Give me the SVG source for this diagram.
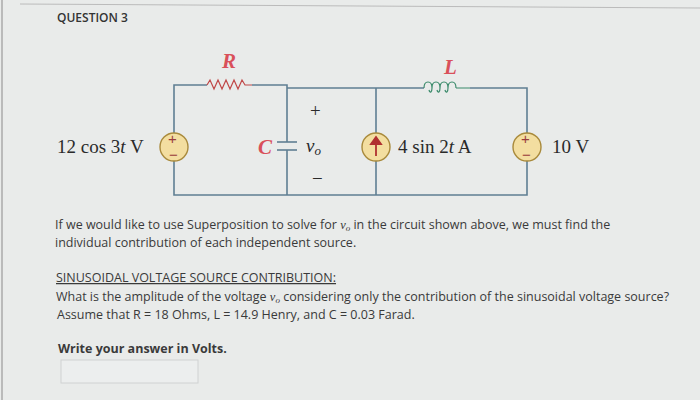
<svg xmlns="http://www.w3.org/2000/svg" width="700" height="400" viewBox="0 0 700 400">
<style>
.w{fill:none;stroke:#5f7f93;stroke-width:1.6}
.src{fill:#f3dea0;stroke:#a98a3c;stroke-width:1.4}
.ct{font-family:"Liberation Serif",serif;font-size:19px;fill:#2a2a2a}
.lb{font-family:"Liberation Serif",serif;font-size:21px;font-style:italic;font-weight:bold;fill:#d9505a}
.t{font-family:"Open Sans","Noto Sans",sans-serif;font-size:12.5px;fill:#3a3a3a}
.sym{font-family:"Liberation Sans",sans-serif;font-size:15px;fill:#9a3c3c}
</style>
<rect width="700" height="400" fill="#e9ebea"/>
<line x1="20" y1="4" x2="700" y2="8" stroke="#bbbbbb" stroke-width="1"/>
<line x1="2" y1="0" x2="2" y2="400" stroke="#aaaaaa" stroke-width="1.5"/>
<text x="57" y="22" font-family="'Open Sans',sans-serif" font-size="12" font-weight="600" fill="#333">QUESTION 3</text>
<g id="connectors">
<path class="w" d="M174,133 V85 H207 M252,85 H287 V142 M287,150 V195 M174,161 V195 H527 V161 M527,133 V88 H470 M424,88 H287 M376,88 V133 M376,161 V195"/>
</g>
<g id="R"><polyline points="207,85 210,80 214,89 218,80 222,89 226,80 230,89 234,80 238,89 242,80 245,85 252,85" fill="none" stroke="#c04848" stroke-width="1.2"/><text class="lb" x="222" y="68">R</text></g>
<g id="L"><path d="M424,88 c0,-8 8,-8 8,0 c0,-8 8,-8 8,0 c0,-8 8,-8 8,0 c0,-8 8,-8 8,0 M432,88 c0,4 -2,6 -3,2 M440,88 c0,4 -2,6 -3,2 M448,88 c0,4 -2,6 -3,2 M456,88 H470" fill="none" stroke="#3a8a6a" stroke-width="1.2"/><text class="lb" x="444" y="74">L</text></g>
<g id="C"><line x1="277" y1="142" x2="297" y2="142" stroke="#5f7f93" stroke-width="1.6"/><line x1="277" y1="150" x2="297" y2="150" stroke="#5f7f93" stroke-width="1.6"/><text class="lb" x="258" y="154">C</text></g>
<g id="vo"><text class="ct" x="310" y="117">+</text><text class="ct" x="306" y="152" font-style="italic">v<tspan font-size="13" dy="3">o</tspan></text><text class="ct" x="312" y="185">−</text></g>
<g id="V1"><circle class="src" cx="174" cy="147" r="14"/><text class="sym" x="168" y="144">+</text><text class="sym" x="169" y="160">−</text><text class="ct" x="57" y="153">12 cos 3<tspan font-style="italic">t</tspan> V</text></g>
<g id="I1"><circle class="src" cx="376" cy="147" r="14"/><path d="M376,156 V140 M371,144 L376,137 L381,144 Z" stroke="#b03030" fill="#b03030" stroke-width="1.8"/><text class="ct" x="398" y="153">4 sin 2<tspan font-style="italic">t</tspan> A</text></g>
<g id="V2"><circle class="src" cx="527" cy="147" r="14"/><text class="sym" x="521" y="144">+</text><text class="sym" x="522" y="160">−</text><text class="ct" x="552" y="153">10 V</text></g>
<g id="text">
<text class="t" x="55" y="229">If we would like to use Superposition to solve for <tspan font-family="'Liberation Serif',serif" font-style="italic">v<tspan font-size="9" dy="2">o</tspan></tspan><tspan dy="-2"> in the circuit shown above, we must find the</tspan></text>
<text class="t" x="55" y="247">individual contribution of each independent source.</text>
<text class="t" x="56" y="282" text-decoration="underline">SINUSOIDAL VOLTAGE SOURCE CONTRIBUTION:</text>
<text class="t" x="56" y="301" font-size="12">What is the amplitude of the voltage <tspan font-family="'Liberation Serif',serif" font-style="italic">v<tspan font-size="9" dy="2">o</tspan></tspan><tspan dy="-2"> considering only the contribution of the sinusoidal voltage source?</tspan></text>
<text class="t" x="57" y="319">Assume that R = 18 Ohms, L = 14.9 Henry, and C = 0.03 Farad.</text>
<text class="t" x="58" y="353" font-weight="bold">Write your answer in Volts.</text>
<rect x="61" y="360" width="137" height="23" fill="#eceeee" stroke="#d0d2d2"/>
</g>
</svg>
